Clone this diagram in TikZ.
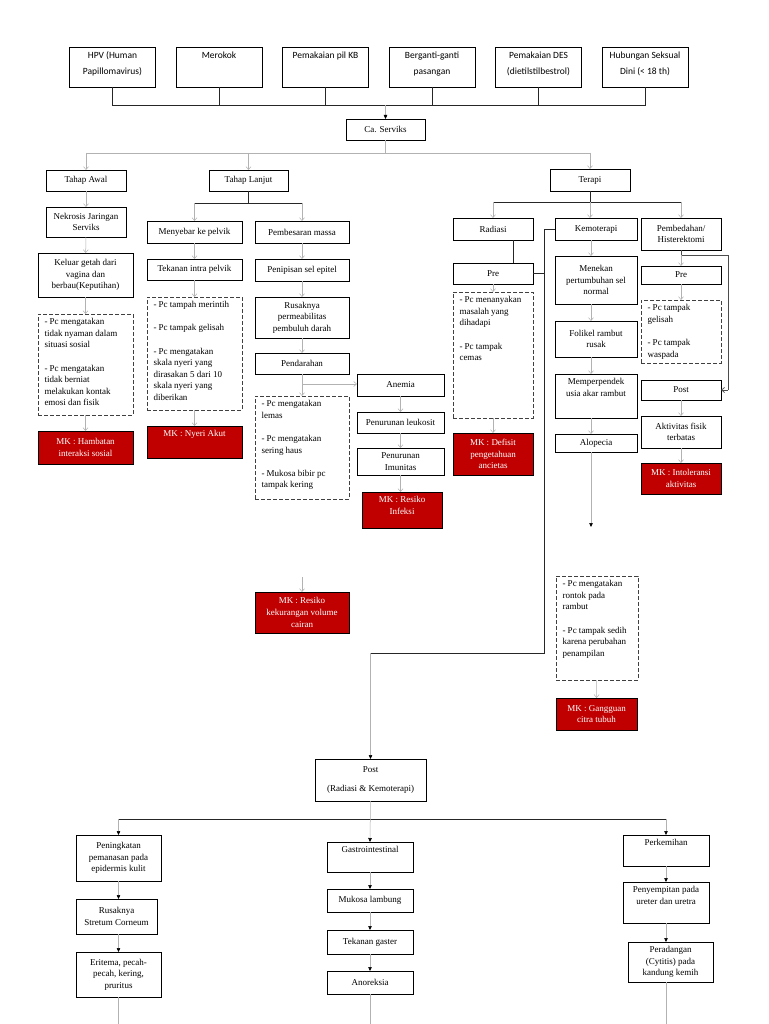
\documentclass[tikz,border=0pt]{standalone}
\usepackage{fontspec}
\setmainfont{Liberation Serif}
\newfontfamily\sansf{Carlito}
\usetikzlibrary{arrows.meta}
\definecolor{mkred}{HTML}{C00000}
% #1 valign, #2 style, #3 name, #4 x1, #5 y1, #6 x2, #7 y2, #8 text
\newcommand\B[8][c]{\node[#2] (#3) at ({(#4+#6)/2},{(#5+#7)/2}) {\parbox[c][\dimexpr#7pt-#5pt\relax][#1]{\dimexpr#6pt-#4pt-7pt\relax}{\centering#8\par}};}
\newcommand\tpad{\vspace*{4.5pt}}
\newcommand\spad{\vspace*{4.5pt}}
\newcommand\dleft{\raggedright\leftskip=3pt\relax}
\tikzset{
  box/.style={draw=black, fill=white, line width=0.75pt, inner xsep=3.5pt, inner ysep=0pt, outer sep=0pt,
    font=\fontsize{9}{11.6}\selectfont},
  tbox/.style={box, font=\sansf\fontsize{9.5}{16}\selectfont},
  dbox/.style={box, draw=black!75, dash pattern=on 4pt off 2pt},
  mkbox/.style={box, fill=mkred, text=white},
  dl/.style={draw=black!85, line width=0.8pt},
  sl/.style={draw=black!70, line width=0.7pt},
  gl/.style={draw=gray!60, line width=0.5pt},
  ga/.style={draw=gray!60, line width=0.5pt, -{Straight Barb[length=3pt,width=5pt]}},
  sa/.style={draw=black!70, line width=0.7pt, -{Straight Barb[length=3pt,width=5pt]}},
  ba/.style={draw=gray!60, line width=0.5pt, -{Triangle[length=4pt,width=3.5pt,color=black]}},
}
\begin{document}
\begin{tikzpicture}[x=1pt,y=-1pt]
\fill[white] (0,0) rectangle (768,1024);
\useasboundingbox (0,0) rectangle (768,1024);
% top row
\B[t]{tbox}{hpv}{69.5}{47}{155.5}{87}{\spad HPV (Human\\Papillomavirus)}
\B[t]{tbox}{mer}{176}{47}{262}{87}{\spad Merokok}
\B[t]{tbox}{pil}{282.5}{47}{368.5}{87}{\spad Pemakaian pil KB}
\B[t]{tbox}{bg}{389}{47}{475}{87}{\spad Berganti-ganti\\pasangan}
\B[t]{tbox}{des}{495.5}{47}{581.5}{87}{\spad Pemakaian DES\\(dietilstilbestrol)}
\B[t]{tbox}{hub}{602}{47}{688}{87}{\spad Hubungan Seksual\\Dini (< 18 th)}
\B{box}{cas}{346}{119}{425}{140}{Ca. Serviks}
\coordinate (j) at (385.5,105);
\draw[dl] (hpv.south) -- (hpv.south |- j) -- (hub.south |- j) -- (hub.south);
\foreach \n in {mer,pil,bg,des} \draw[dl] (\n.south) -- (\n.south |- j);
\draw[ba] (j) -- (cas.north);
% level 1
\B{box}{ta}{46}{170}{126}{191}{Tahap Awal}
\B{box}{tl}{209}{170}{288}{191}{Tahap Lanjut}
\B{box}{tr}{550}{169}{630}{191}{Terapi}
\coordinate (b1) at (385.5,153);
\draw[gl] (cas.south) -- (b1);
\draw[gl] (ta.north |- b1) -- (tr.north |- b1);
\foreach \n in {ta,tl,tr} \draw[ga] (\n.north |- b1) -- (\n.north);
% Tahap Awal chain
\B{box}{nk}{46}{207}{126}{237}{Nekrosis Jaringan\\Serviks}
\B{box}{kg}{38}{253}{133}{297}{Keluar getah dari\\vagina dan\\berbau(Keputihan)}
\B[t]{dbox}{d1}{38}{314}{133}{415}{\dleft\tpad - Pc mengatakan\\tidak nyaman dalam\\situasi sosial\\[11.6pt]- Pc mengatakan\\tidak berniat\\melakukan kontak\\emosi dan fisik}
\B{mkbox}{mk1}{38}{431}{133}{464}{MK : Hambatan\\interaksi sosial}
\draw[ga] (ta) -- (nk);
\draw[ga] (nk) -- (kg);
\draw[ga] (kg) -- (d1);
\draw[ga] (d1) -- (mk1);
% Tahap Lanjut
\B{box}{mp}{147}{221}{242}{243}{Menyebar ke pelvik}
\B{box}{tp}{147}{259}{242}{280}{Tekanan intra pelvik}
\B[t]{dbox}{d2}{147}{297}{242}{410}{\dleft\tpad - Pc tampah merintih\\[11.6pt]- Pc tampak gelisah\\[11.6pt]- Pc mengatakan\\skala nyeri yang\\dirasakan 5 dari 10\\skala nyeri yang\\diberikan}
\B[t]{mkbox}{mk2}{147}{426}{242}{458}{\tpad MK : Nyeri Akut}
\B{box}{pm}{255}{221}{349}{243}{Pembesaran massa}
\B{box}{ps}{255}{259}{349}{281}{Penipisan sel epitel}
\B{box}{rp}{255}{297}{349}{338}{Rusaknya\\permeabilitas\\pembuluh darah}
\B{box}{pd}{255}{353}{349}{374}{Pendarahan}
\B[t]{dbox}{d3}{255}{396}{349}{499}{\dleft\tpad - Pc mengatakan\\lemas\\[11.6pt]- Pc mengatakan\\sering haus\\[11.6pt]- Mukosa bibir pc\\tampak kering}
\B{mkbox}{mk3}{255}{592}{349}{633}{MK : Resiko\\kekurangan volume\\cairan}
\B{box}{an}{357}{374}{444}{396}{Anemia}
\B{box}{pl}{357}{412}{444}{433}{Penurunan leukosit}
\B{box}{pi}{357}{448}{444}{475}{Penurunan\\Imunitas}
\B[t]{mkbox}{mk4}{362}{492}{442}{528}{\tpad MK : Resiko\\Infeksi}
\coordinate (b2) at (248.5,203);
\draw[dl] (tl.south) -- (b2);
\draw[dl] (mp.north |- b2) -- (pm.north |- b2);
\draw[ga] (mp.north |- b2) -- (mp.north);
\draw[ga] (pm.north |- b2) -- (pm.north);
\draw[ga] (mp) -- (tp);
\draw[ga] (tp) -- (d2);
\draw[ga] (d2) -- (mk2);
\draw[ga] (pm) -- (ps);
\draw[ga] (ps) -- (rp);
\draw[ga] (rp) -- (pd);
\draw[ga] (pd) -- (d3);
\coordinate (b3) at (302,384);
\draw[ga] (b3) -- (an.west |- b3);
\draw[ga] (an) -- (pl);
\draw[ga] (pl) -- (pi);
\draw[ga] (pi.south) -- (pi.south |- mk4.north);
\coordinate (m3a) at (302,577);
\draw[ga] (m3a) -- (mk3.north);
% Terapi
\B{box}{rd}{453}{218}{533}{240}{Radiasi}
\B{box}{km}{555}{218}{637}{240}{Kemoterapi}
\B{box}{pb}{641}{218}{721}{250}{Pembedahan/\\Histerektomi}
\coordinate (b4) at (590,202);
\draw[dl] (tr.south) -- (b4);
\draw[dl] (rd.north |- b4) -- (pb.north |- b4);
\draw[ga] (rd.north |- b4) -- (rd.north);
\draw[ga] (b4) -- (b4 |- km.north);
\draw[ga] (pb.north |- b4) -- (pb.north);
% Radiasi chain
\B{box}{pr1}{453}{263}{533}{284}{Pre}
\B[t]{dbox}{d4}{453}{292}{533}{418}{\dleft\tpad - Pc menanyakan\\masalah yang\\dihadapi\\[11.6pt]- Pc tampak\\cemas}
\B{mkbox}{mk5}{453}{433}{533}{475}{MK : Defisit\\pengetahuan\\ancietas}
\coordinate (r1) at (513,240);
\draw[dl] (r1) -- (r1 |- pr1.north);
\draw[ga] (pr1) -- (d4);
\draw[ga] (d4) -- (mk5);
% Kemoterapi chain
\coordinate (kx) at (591,0);
\B{box}{mn}{555}{256}{637}{304}{Menekan\\pertumbuhan sel\\normal}
\B{box}{fr}{555}{321}{637}{357}{Folikel rambut\\rusak}
\B[t]{box}{ma}{555}{374}{637}{418}{\tpad Memperpendek\\usia akar rambut}
\B{box}{al}{555}{434}{637}{452}{Alopecia}
\draw[ga] (kx |- km.south) -- (kx |- mn.north);
\draw[ga] (kx |- mn.south) -- (kx |- fr.north);
\draw[ga] (kx |- fr.south) -- (kx |- ma.north);
\draw[ga] (kx |- ma.south) -- (kx |- al.north);
\coordinate (alx) at (591,527);
\draw[ba] (alx |- al.south) -- (alx);
\B[t]{dbox}{d5}{556}{576}{638}{680}{\dleft\tpad - Pc mengatakan\\rontok pada\\rambut\\[11.6pt]- Pc tampak sedih\\karena perubahan\\penampilan}
\B{mkbox}{mk6}{556}{698}{637}{730}{MK : Gangguan\\citra tubuh}
\draw[ga] (d5) -- (mk6);
% Pembedahan chain
\B{box}{pr2}{641}{266}{721}{284}{Pre}
\B[t]{dbox}{d6}{641}{300}{721}{363}{\dleft\tpad - Pc tampak\\gelisah\\[11.6pt]- Pc tampak\\waspada}
\B{box}{po}{641}{380}{721}{400}{Post}
\B{box}{af}{641}{416}{721}{448}{Aktivitas fisik\\terbatas}
\B{mkbox}{mk7}{641}{463}{721}{494}{MK : Intoleransi\\aktivitas}
\coordinate (c1) at (681,255);
\coordinate (c2) at (728,255);
\draw[sl] (pb.south) -- (c1) -- (c2) -- (c2 |- po.east);
\draw[sa] (c2 |- po.east) -- (po.east);
\draw[ga] (c1) -- (pr2.north);
\draw[ga] (pr2) -- (d6);
\draw[ga] (po) -- (af);
\draw[ga] (af) -- (mk7);
% Post (Radiasi & Kemoterapi)
\B{box}{pt}{315}{759}{426}{801}{Post\\[7pt](Radiasi \& Kemoterapi)}
\coordinate (v1) at (544,229);
\coordinate (v2) at (544,653);
\draw[dl] (km.west) -- (v1) -- (v2) -- (pt.north |- v2);
\draw[dl] (pr1.east) -- (pr1.east -| v1);
\draw[ba] (pt.north |- v2) -- (pt.north);
% bottom
\B{box}{pn}{76}{835}{161}{881}{Peningkatan\\pemanasan pada\\epidermis kulit}
\B{box}{rs}{76}{899}{157}{934}{Rusaknya\\Stretum  Corneum}
\B{box}{er}{76}{952}{161}{997}{Eritema, pecah-\\pecah, kering,\\pruritus}
\B[t]{box}{gi}{327}{842}{413}{872}{\tpad Gastrointestinal}
\B{box}{ml}{327}{889}{413}{912}{Mukosa lambung}
\B{box}{tg}{327}{930}{413}{954}{Tekanan gaster}
\B{box}{ak}{327}{971}{413}{994}{Anoreksia}
\B[t]{box}{pk}{623}{835}{709}{866}{\tpad Perkemihan}
\B[t]{box}{py}{623}{882}{709}{923}{\tpad Penyempitan  pada\\ureter dan uretra}
\B{box}{pdg}{628}{942}{713}{982}{Peradangan\\(Cytitis) pada\\kandung kemih}
\coordinate (h) at (370,819);
\draw[dl] (pn.north |- h) -- (pk.north |- h);
\draw[ba] (pn.north |- h) -- (pn.north);
\draw[ba] (pk.north |- h) -- (pk.north);
\draw[ba] (pt.south) -- (gi.north);
\draw[ba] (pn.south) -- (pn.south |- rs.north);
\draw[ba] (pn.south |- rs.south) -- (pn.south |- er.north);
\draw[gl] (er.south) -- ++(0,30);
\draw[ba] (gi) -- (ml);
\draw[ba] (ml) -- (tg);
\draw[ba] (tg) -- (ak);
\draw[gl] (ak.south) -- ++(0,30);
\draw[ba] (pk) -- (py);
\draw[ba] (py.south) -- (py.south |- pdg.north);
\draw[gl] (py.south |- pdg.south) -- ++(0,45);
\end{tikzpicture}
\end{document}
